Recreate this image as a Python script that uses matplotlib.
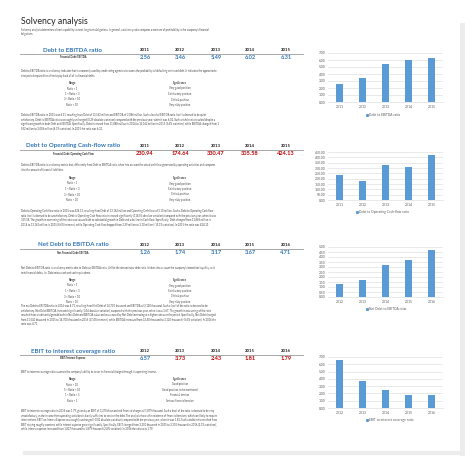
import matplotlib
matplotlib.use("Agg")
import matplotlib.pyplot as plt

plt.rcParams['font.family'] = ['Lato', 'DejaVu Sans']

# chart data
years_a = ['2011', '2012', '2013', '2014', '2015']
years_b = ['2012', '2013', '2014', '2015', '2016']
debt_ebitda = [2.56, 3.46, 5.49, 6.02, 6.31]
debt_cashflow = [230.94, 174.64, 330.47, 305.58, 424.13]
netdebt_ebitda = [1.26, 1.74, 3.17, 3.67, 4.71]
ebit_interest = [6.57, 3.73, 2.43, 1.81, 1.79]

titles = ['Debt to EBITDA ratio', 'Debt to Operating Cash-flow ratio',
          'Net Debt to EBITDA ratio', 'EBIT to interest coverage ratio']
row_labels = ['Financial Debt/EBITDA', 'Financial Debt/Operating Cash Flow',
              'Net Financial Debt/EBITDA', 'EBIT/Interest Expense']

BLUE = '#5B9BD5'
HEAD = '#2E75B6'
RED = '#C00000'
W, H = 474, 466

fig = plt.figure(figsize=(4.74, 4.66), dpi=100)
page = fig.add_axes([0, 0, 1, 1])
page.set_xlim(0, W)
page.set_ylim(H, 0)
page.axis('off')

# page shadow
page.plot([462.5, 462.5], [25, 453], color='#ececec', lw=3.5)
page.plot([25, 462], [453, 453], color='#ececec', lw=3)

page.text(21, 22, 'Solvency analysis', fontsize=6.3, va='center', color='#222222')
intro = ["Solvency analysis determines a firm's capability to meet long term obligations. In general, a solvency ratio compares a measure of profitability to the company's financial",
         "obligations."]
for i, s in enumerate(intro):
    page.text(21, 29.5 + 4.5 * i, s, fontsize=1.9, va='center', color='#444444')

sections = [
    dict(y=50, years=years_a, vals=debt_ebitda, cols=[HEAD] * 5,
         para1=["Debt to EBITDA ratio is a solvency indicator that is commonly used by credit rating agencies to assess the probability of defaulting on issued debt. It indicates the approximate",
                "time period required for a firm to pay back all of its financial debts."],
         p1y=71,
         ranges=[('Ratio < 1', 'Very good position'), ('1 < Ratio < 3', 'Satisfactory position'),
                 ('3 < Ratio < 10', 'Critical position'), ('Ratio > 10', 'Very risky position')],
         ry=83,
         para2=["Debt to EBITDA ratio in 2015 was 6.31, resulting from Debt of 13,162 million and EBITDA of 2,086 million. Such a level of EBITDA ratio level is deemed to be quite",
                "satisfactory. Debt to EBITDA ratio was roughly unchanged (0.29 absolute variation) compared with the previous year, when it was 6.02. Such a stable ratio resulted despite a",
                "significant growth in both Debt and EBITDA. Specifically, Debt increased from 11,888 million in 2014 to 13,162 million in 2015 (8.6% variation), while EBITDA changed from 1",
                "962 million to 2,086 million (6.3% variation). In 2015 the ratio was 6.31."],
         p2y=115),
    dict(y=146, years=years_a, vals=debt_cashflow, cols=[RED] * 5,
         para1=["Debt to EBITDA ratio is a solvency metric that, differently from Debt to EBITDA ratio, takes into account the actual cash flow generated by operating activities and compares",
                "it to the amount of financial liabilities."],
         p1y=165,
         ranges=[('Ratio < 1', 'Very good position'), ('1 < Ratio < 3', 'Satisfactory position'),
                 ('3 < Ratio < 10', 'Critical position'), ('Ratio > 10', 'Very risky position')],
         ry=178,
         para2=["Debt to Operating Cash flow ratio in 2015 was 424.13, resulting from Debt of 13,162 million and Operating Cash flow of 3.10 million. Such a Debt to Operating Cash flow",
                "ratio level is deemed to be unsatisfactory. Debt to Operating Cash flow ratio increased significantly (118.55 absolute variation) compared with the previous year, when it was",
                "305.58. The growth in worsening of the ratio was caused both to substantial growth in Debt and a decline in Cash flow. Specifically, Debt changed from 11,888 million in",
                "2014 to 13,162 million in 2015 (8.6% increase), while Operating Cash flow dropped from 3.39 million to 3.10 million (-15.1% variation). In 2015 the ratio was 424.13."],
         p2y=211),
    dict(y=245, years=years_b, vals=netdebt_ebitda, cols=[HEAD] * 5,
         para1=["Net Debt to EBITDA ratio is a solvency metric akin to Debt on EBITDA ratio. Unlike the denominator debt ratio, it takes into account the company's immediate liquidity, as it",
                "nets financial debts, i.e. Debt minus cash and cash equivalents."],
         p1y=268,
         ranges=[('Ratio < 1', 'Very good position'), ('1 < Ratio < 3', 'Satisfactory position'),
                 ('3 < Ratio < 10', 'Critical position'), ('Ratio > 10', 'Very risky position')],
         ry=280,
         para2=["The net Debt to EBITDA ratio in 2016 was 4.71, resulting from Net Debt of 14,700 thousand and EBITDA of 3,120 thousand. Such a level of the ratio is deemed to be",
                "satisfactory. Net Debt/EBITDA increased significantly (1.04 absolute variation) compared with the previous year, when it was 3.67. The growth in worsening of the ratio",
                "resulted from a substantial growth both in Net Debt and EBITDA value and was caused by Net Debt increasing at a higher rate over the period. Specifically, Net Debt changed",
                "from 11,540 thousand in 2015 to 14,700 thousand in 2016 (27.4% increase), while EBITDA increased from 3,140 thousand to 3,120 thousand (-0.6% variation). In 2016 the",
                "ratio was 4.71."],
         p2y=306),
    dict(y=351, years=years_b, vals=ebit_interest, cols=[HEAD] + [RED] * 4,
         para1=["EBIT to interest coverage ratio assesses the company's ability to cover its financial charges through its operating income."],
         p1y=372,
         ranges=[('Ratio > 10', 'Good position'), ('5 < Ratio < 10', 'Good position, to be monitored'),
                 ('1 < Ratio < 5', 'Financial tension'), ('Ratio < 1', 'Serious financial tension')],
         ry=379,
         para2=["EBIT to interest coverage ratio in 2016 was 1.79, given by an EBIT of 3,370 thousand and financial charges of 1,879 thousand. Such a level of the ratio is deemed to be very",
                "unsatisfactory, as the income from operating activities is barely sufficient to service the debt. The analysis shows the existence of financial tensions, which are likely to require",
                "interventions. EBIT on Interest Expense was roughly unchanged (-0.02 absolute variation) compared with the previous year, when it was 1.81. Such a stable ratio resulted from",
                "EBIT staying roughly constant, while interest expense grew significantly. Specifically, EBIT changed from 3,300 thousand in 2015 to 3,370 thousand in 2016 (2.1% variation),",
                "while interest expense increased from 1,827 thousand to 1,879 thousand (2.8% variation). In 2016 the ratio was 1.79."],
         p2y=411),
]

col_x = [145, 180, 216, 250, 286]

for k, sec in enumerate(sections):
    y0 = sec['y']
    page.text(73, y0, titles[k], fontsize=4.4, fontweight='bold', color=HEAD,
              ha='center', va='center')
    for x, yr, v, c in zip(col_x, sec['years'], sec['vals'], sec['cols']):
        page.text(x, y0, yr, fontsize=3.2, fontweight='bold', ha='center', va='center', color='#222222')
        page.text(x, y0 + 7.5, f'{v:.2f}', fontsize=4.1, fontweight='bold', ha='center', va='center', color=c)
    page.plot([20, 303], [y0 + 4, y0 + 4], color='#9a9a9a', lw=0.6)
    page.text(73, y0 + 7.5, row_labels[k], fontsize=1.8, fontweight='bold', ha='center', va='center', color='#222222')
    for i, s in enumerate(sec['para1']):
        page.text(21, sec['p1y'] + 4.7 * i, s, fontsize=1.9, va='center', color='#444444')
    page.text(72, sec['ry'], 'Range', fontsize=1.9, fontweight='bold', ha='center', va='center', color='#333333')
    page.text(180, sec['ry'], 'Significance', fontsize=1.9, fontweight='bold', ha='center', va='center', color='#333333')
    for i, (r, s) in enumerate(sec['ranges']):
        yy = sec['ry'] + 5.5 * (i + 1)
        page.text(72, yy, r, fontsize=1.9, ha='center', va='center', color='#444444')
        page.text(180, yy, s, fontsize=1.9, ha='center', va='center', color='#444444')
    for i, s in enumerate(sec['para2']):
        page.text(21, sec['p2y'] + 4.6 * i, s, fontsize=1.9, va='center', color='#444444')

# bar charts: (top px, bottom px, ymax, step, data, years, legend y)
charts = [
    (53, 102, 7, 1, debt_ebitda, years_a, 115),
    (152, 200, 450, 50, debt_cashflow, years_a, 212),
    (247, 297, 5, 0.5, netdebt_ebitda, years_b, 309),
    (357, 408, 7, 1, ebit_interest, years_b, 420),
]
x0, x1 = 328, 443
for k, (top, bot, ymax, step, vals, yrs, ly) in enumerate(charts):
    ax = fig.add_axes([x0 / W, 1 - bot / H, (x1 - x0) / W, (bot - top) / H])
    ax.bar(yrs, vals, width=0.3, color=BLUE)
    ax.set_xlim(-0.5, 4.5)
    ax.set_ylim(0, ymax)
    n = int(round(ymax / step))
    ax.set_yticks([step * i for i in range(n + 1)])
    ax.set_yticklabels([f'{step * i:.2f}' for i in range(n + 1)])
    ax.tick_params(labelsize=2.4, length=0, pad=2, colors='#595959')
    ax.grid(axis='y', color='#d9d9d9', lw=0.4)
    ax.set_axisbelow(True)
    for s in ['top', 'right', 'left']:
        ax.spines[s].set_visible(False)
    ax.spines['bottom'].set_color('#d9d9d9')
    ax.spines['bottom'].set_linewidth(0.4)
    ax.patch.set_alpha(0)
    # legend
    lx = 357 if k == 1 else 367
    page.plot([lx], [ly], marker='s', ms=1.2, color=BLUE, lw=0)
    page.text(lx + 2, ly, titles[k], fontsize=2.3, va='center', color='#595959')

fig.savefig('out.png', dpi=100)
